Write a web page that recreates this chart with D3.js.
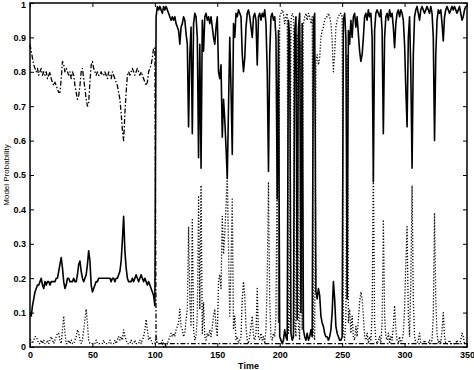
<!DOCTYPE html>
<html>
<head>
<meta charset="utf-8">
<script src="https://cdn.jsdelivr.net/npm/d3@7"></script>
<style>
    body { margin: 0; background: #fff; }
    svg { display: block; }
    .axis text { font-family: "Liberation Sans", Arial, sans-serif; font-size: 9px; font-weight: bold; fill: #000; }
    .axis line { stroke: #000; stroke-width: 1; }
    .axis path { display: none; }
    .label { font-family: "Liberation Sans", Arial, sans-serif; fill: #000; }
</style>
</head>
<body>
<main></main>
<script>
// Values are model probabilities in percent, one per time step (t = 0 .. 350)
const solid = [
    10, 9, 12, 14, 16, 17, 18, 18, 19, 20,
    18, 17, 19, 18, 19, 19, 18, 19, 19, 19,
    19, 20, 20, 22, 24, 26, 23, 19, 17, 18,
    20, 20, 19, 19, 19, 20, 19, 19, 21, 24,
    25, 22, 20, 19, 20, 21, 24, 28, 25, 18,
    16, 17, 18, 19, 19, 20, 20, 20, 20, 20,
    20, 20, 20, 20, 20, 19, 20, 20, 19, 20,
    20, 21, 22, 25, 31, 38, 28, 23, 20, 19,
    19, 19, 20, 19, 20, 21, 20, 19, 20, 21,
    20, 19, 20, 19, 18, 19, 18, 17, 16, 15,
    12,
    96, 99, 98, 99, 98, 97, 99, 98, 99, 98,
    97, 96, 95, 96, 95, 96, 94, 93, 92, 88,
    93, 94, 96, 95, 91, 88, 64, 85, 93, 62,
    94, 97, 96, 90, 55, 88, 52, 95, 86, 96,
    97, 95, 96, 94, 96, 93, 90, 88, 93, 96,
    80, 78, 82, 61, 72, 66, 58, 49, 70, 90,
    75, 56, 94, 90, 97, 96, 98, 97, 96, 85,
    80, 84, 93, 97, 98, 96, 93, 90, 96, 97,
    95, 82, 96, 97, 95, 97, 96, 98, 94, 80,
    51, 85, 96, 97, 95, 96, 90, 43, 92, 3,
    2, 1, 2, 5, 3, 2, 95, 90, 4, 2,
    3, 92, 96, 8, 93, 97, 10, 94, 5, 3,
    2, 4, 2, 3, 5, 3, 95, 97, 16, 14,
    17, 15, 9, 7, 6, 4, 3, 3, 2, 3,
    5, 10, 19, 14, 6, 4, 3, 2, 2, 3,
    95, 97, 90, 14, 92, 88, 95, 90, 96, 97,
    93, 96, 91, 86, 83, 85, 90, 96, 97, 95,
    98, 96, 97, 90, 48, 92, 97, 98, 97, 96,
    98, 92, 62, 90, 96, 97, 95, 98, 96, 97,
    93, 87, 94, 97, 98, 96, 98, 97, 95, 88,
    75, 64, 90, 96, 80, 52, 85, 96, 98, 99,
    97, 95, 98, 99, 98, 97, 98, 99, 98, 97,
    99, 97, 90, 60, 85, 95, 98, 97, 98, 94,
    89, 96, 98, 99, 98, 97, 98, 99, 98, 99,
    98, 97, 98, 99, 97, 95, 96, 98, 99, 99
]

const dashdot = [
    88, 86, 84, 82, 81, 80, 81, 79, 80, 81,
    79, 80, 79, 80, 78, 79, 80, 78, 77, 76,
    77, 76, 75, 74, 74, 78, 83, 82, 80, 81,
    80, 79, 80, 78, 80, 79, 76, 74, 72, 73,
    76, 80, 81, 78, 75, 72, 70, 71, 77, 82,
    83, 81, 80, 79, 80, 79, 79, 80, 79, 79,
    80, 79, 78, 80, 79, 78, 80, 79, 78, 77,
    76, 74, 72, 68, 63, 60, 68, 74, 79, 80,
    79, 80, 81, 80, 79, 80, 81, 80, 79, 80,
    79, 78, 77, 76, 77, 80, 81, 82, 84, 87,
    87,
    2, 1, 1, 1, 1, 1, 0, 1, 0, 1,
    1, 1, 1, 1, 1, 1, 1, 1, 1, 1,
    1, 1, 1, 1, 1, 1, 1, 1, 1, 1,
    1, 1, 1, 1, 1, 1, 1, 1, 1, 1,
    1, 1, 1, 1, 1, 1, 1, 1, 1, 1,
    1, 1, 1, 1, 1, 1, 1, 1, 1, 1,
    1, 1, 1, 1, 1, 1, 1, 1, 1, 1,
    1, 1, 1, 1, 1, 1, 1, 1, 1, 1,
    1, 1, 1, 1, 1, 1, 1, 1, 1, 1,
    1, 1, 1, 1, 1, 1, 1, 1, 1, 1,
    1, 1, 1, 1, 1, 1, 1, 1, 1, 1,
    1, 1, 1, 1, 1, 1, 1, 1, 1, 1,
    1, 1, 1, 1, 1, 1, 1, 1, 1, 1,
    1, 1, 1, 1, 1, 1, 1, 1, 1, 1,
    1, 1, 1, 1, 1, 1, 1, 1, 1, 1,
    1, 1, 1, 1, 1, 1, 1, 1, 1, 1,
    1, 1, 1, 1, 1, 1, 1, 1, 1, 1,
    1, 1, 1, 1, 1, 1, 1, 1, 1, 1,
    1, 1, 1, 1, 1, 1, 1, 1, 1, 1,
    1, 1, 1, 1, 1, 1, 1, 1, 1, 1,
    1, 1, 1, 1, 1, 1, 1, 1, 1, 1,
    1, 1, 1, 1, 1, 1, 1, 1, 1, 1,
    1, 1, 1, 1, 1, 1, 1, 1, 1, 1,
    1, 1, 1, 1, 1, 1, 1, 1, 1, 1,
    1, 1, 1, 1, 1, 1, 1, 1, 1, 1
]

const dotted = [
    2, 2, 1, 2, 3, 3, 2, 1, 1, 2,
    1, 2, 1, 1, 2, 1, 2, 3, 2, 1,
    2, 3, 4, 4, 2, 1, 5, 9, 4, 1,
    1, 2, 1, 2, 1, 1, 2, 3, 5, 4,
    2, 1, 2, 5, 8, 11, 7, 2, 1, 1,
    1, 1, 1, 2, 1, 1, 1, 1, 1, 2,
    1, 1, 1, 1, 2, 1, 1, 1, 2, 1,
    2, 3, 2, 3, 2, 5, 3, 2, 1, 1,
    1, 2, 1, 1, 2, 1, 1, 1, 2, 1,
    2, 3, 5, 8, 5, 2, 3, 2, 1, 1,
    1,
    3, 1, 1, 1, 1, 2, 1, 1, 1, 1,
    2, 3, 4, 3, 4, 3, 5, 6, 7, 11,
    6, 5, 3, 4, 8, 11, 35, 14, 6, 37,
    5, 2, 3, 9, 44, 11, 47, 4, 13, 3,
    2, 4, 3, 5, 3, 6, 9, 11, 6, 3,
    19, 21, 17, 38, 27, 33, 41, 50, 29, 9,
    24, 43, 5, 9, 2, 3, 1, 2, 3, 14,
    19, 15, 6, 2, 1, 3, 6, 9, 3, 2,
    4, 17, 3, 2, 4, 2, 3, 1, 5, 19,
    48, 14, 3, 2, 4, 3, 9, 56, 7, 96,
    97, 98, 97, 94, 96, 97, 4, 9, 95, 97,
    96, 7, 3, 91, 6, 2, 89, 5, 94, 96,
    97, 95, 97, 96, 94, 96, 4, 2, 83, 85,
    82, 84, 90, 92, 93, 95, 96, 96, 97, 96,
    94, 89, 80, 85, 93, 95, 96, 97, 97, 96,
    4, 2, 9, 85, 7, 11, 4, 9, 3, 2,
    6, 3, 8, 13, 16, 14, 9, 3, 2, 4,
    1, 3, 2, 9, 51, 7, 2, 1, 2, 3,
    1, 7, 37, 9, 3, 2, 4, 1, 3, 2,
    6, 12, 5, 2, 1, 3, 1, 2, 4, 11,
    24, 35, 9, 3, 19, 47, 14, 3, 1, 1,
    2, 4, 1, 1, 1, 2, 1, 1, 1, 2,
    1, 2, 9, 39, 14, 4, 1, 2, 1, 5,
    10, 3, 1, 1, 1, 2, 1, 1, 1, 1,
    1, 2, 1, 1, 2, 4, 3, 1, 1, 1
]

const xTicks = [0, 50, 100, 150, 200, 250, 300, 350]
const yTicks = [0, 0.1, 0.2, 0.3, 0.4, 0.5, 0.6, 0.7, 0.8, 0.9, 1]
const yTickLabels = ['0', '0.1', '0.2', '0.3', '0.4', '0.5', '0.6', '0.7', '0.8', '0.9', '1']

function GeneratePlot() {
    const width = 474
    const height = 370
    const margin = { top: 3, right: 7, bottom: 23, left: 30 }

    const svg = d3.select('main')
        .append('svg')
        .attr('width', width)
        .attr('height', height)

    const x = d3.scaleLinear()
        .domain([0, 350])
        .range([margin.left, width - margin.right])
    const y = d3.scaleLinear()
        .domain([0, 1])
        .range([height - margin.bottom, margin.top])

    const toPoints = values => values.map((v, i) => [i, v / 100])

    const line = d3.line()
        .x(d => x(d[0]))
        .y(d => y(d[1]))

    const series = [
        { values: dotted, dash: '1.2,1.8', w: 1.3 },
        { values: dashdot, dash: '5,2,1.5,2', w: 1.3 },
        { values: solid, dash: null, w: 1.6 }
    ]

    svg.append('g')
        .selectAll('path')
        .data(series)
        .enter()
        .append('path')
        .attr('d', d => line(toPoints(d.values)))
        .attr('fill', 'none')
        .attr('stroke', '#000')
        .attr('stroke-width', d => d.w)
        .attr('stroke-dasharray', d => d.dash)
        .attr('stroke-linejoin', 'round')

    // Axes, ticks pointing inward on all four sides
    const x0 = x.range()[0], x1 = x.range()[1]
    const y0 = y.range()[0], y1 = y.range()[1]

    svg.append('g')
        .classed('axis', true)
        .attr('transform', `translate(0,${y0})`)
        .call(d3.axisBottom(x).tickValues(xTicks).tickSizeInner(-4).tickSizeOuter(0).tickPadding(5).tickFormat(d3.format('d')))

    svg.append('g')
        .classed('axis', true)
        .attr('transform', `translate(0,${y1})`)
        .call(d3.axisTop(x).tickValues(xTicks).tickSizeInner(-4).tickSizeOuter(0).tickFormat(''))

    const yAxis = svg.append('g')
        .classed('axis', true)
        .attr('transform', `translate(${x0},0)`)
        .call(d3.axisLeft(y).tickValues(yTicks).tickSizeInner(-4).tickSizeOuter(0).tickPadding(4)
            .tickFormat((d, i) => yTickLabels[i]))

    // keep the top label inside the picture
    yAxis.selectAll('.tick text')
        .filter(d => d === 1)
        .attr('dy', '0.75em')
        .attr('y', -2)

    svg.append('g')
        .classed('axis', true)
        .attr('transform', `translate(${x1},0)`)
        .call(d3.axisRight(y).tickValues(yTicks).tickSizeInner(-4).tickSizeOuter(0).tickFormat(''))

    svg.append('rect')
        .attr('x', x0)
        .attr('y', y1)
        .attr('width', x1 - x0)
        .attr('height', y0 - y1)
        .attr('fill', 'none')
        .attr('stroke', '#000')
        .attr('stroke-width', 1.5)

    svg.append('text')
        .classed('label', true)
        .attr('transform', `translate(9,${(y0 + y1) / 2}) rotate(-90)`)
        .attr('text-anchor', 'middle')
        .attr('font-size', 8)
        .text('Model Probability')

    svg.append('text')
        .classed('label', true)
        .attr('x', (x0 + x1) / 2)
        .attr('y', 369)
        .attr('text-anchor', 'middle')
        .attr('font-size', 9)
        .attr('font-weight', 'bold')
        .text('Time')
}

GeneratePlot()
</script>
</body>
</html>
